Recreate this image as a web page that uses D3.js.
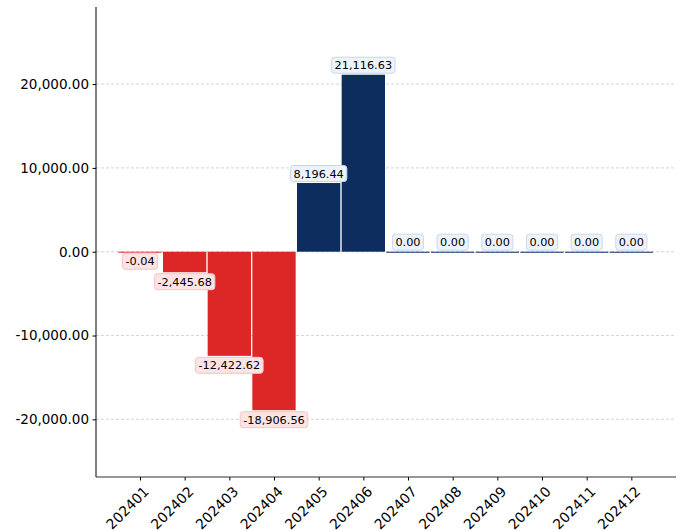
<!DOCTYPE html>
<html><head><meta charset="utf-8">
<script src="https://cdn.jsdelivr.net/npm/d3@7"></script>
<style>body{margin:0;background:#fff}svg{display:block}text{font-family:"DejaVu Sans",sans-serif}</style>
</head><body><svg id="c" width="683" height="531"></svg>
<script>
const categories = ["202401","202402","202403","202404","202405","202406","202407","202408","202409","202410","202411","202412"];
const values = [-0.04,-2445.68,-12422.62,-18906.56,8196.44,21116.63,0,0,0,0,0,0];
const yTicks = [-20000,-10000,0,10000,20000];

const svg = d3.select("#c");
const L=96, R=676, T=7, B=477;
const x = d3.scaleLinear().domain([-0.985,12.0]).range([L,R]);
const y = d3.scaleLinear().domain([-26880,29200]).range([B,T]);
const bw = (x(1)-x(0))*0.97;
const f0 = d3.format(",.2f");
const fmt = v => f0(v).replace("\u2212","-");
const red="#dd2626", navy="#0c2d5e";

// grid
svg.append("g").selectAll("line").data(yTicks).join("line")
  .attr("x1",L).attr("x2",R).attr("y1",d=>y(d)).attr("y2",d=>y(d))
  .attr("stroke","#c8c8c8").attr("stroke-width",0.8).attr("stroke-dasharray","3,2");

// bars
svg.append("g").selectAll("rect").data(values).join("rect")
  .attr("x",(d,i)=>x(i)-bw/2).attr("width",bw)
  .attr("y",d=>d>=0?y(d):y(0))
  .attr("height",d=>Math.max(1,Math.abs(y(d)-y(0))))
  .attr("fill",d=>d<0?red:navy);

// axes
const ya = d3.axisLeft(y).tickValues(yTicks).tickFormat(fmt).tickSize(3.5).tickPadding(3.5);
const gy = svg.append("g").attr("transform",`translate(${L},0)`).call(ya);
gy.select(".domain").remove();
gy.selectAll("text").attr("font-size","13.5px").attr("fill","#000");
svg.append("line").attr("x1",L).attr("x2",L).attr("y1",T).attr("y2",B).attr("stroke","#000").attr("stroke-width",1);

const xa = d3.axisBottom(x).tickValues(d3.range(12)).tickFormat(i=>categories[i]).tickSize(3.5);
const gx = svg.append("g").attr("transform",`translate(0,${B})`).call(xa);
gx.select(".domain").remove();
gx.selectAll("text").attr("font-size","14px").attr("fill","#000")
  .attr("text-anchor","end").attr("dy",null)
  .attr("transform","translate(2,8) rotate(-45)").attr("y",0).attr("x",0).attr("dy","0.75em");
svg.append("line").attr("x1",L).attr("x2",R).attr("y1",B).attr("y2",B).attr("stroke","#333").attr("stroke-width",1);

// labels
const lg = svg.append("g");
values.forEach((v,i)=>{
  const cx = x(i);
  const cy = v>=0 ? y(v)-9.5 : y(v)+9.5;
  const g = lg.append("g");
  const t = g.append("text").attr("x",cx).attr("y",cy).attr("dy","0.36em")
    .attr("text-anchor","middle").attr("font-size","11.3px").attr("fill","#000").text(fmt(v));
  const bb = t.node().getBBox();
  g.insert("rect","text").attr("x",bb.x-3).attr("y",cy-8).attr("width",bb.width+6).attr("height",16)
    .attr("rx",3).attr("fill",v<0?"#fde4e4":"#eef3fb").attr("stroke",v<0?"#f4c4c4":"#c9d7ec").attr("stroke-width",1);
});
</script></body></html>
